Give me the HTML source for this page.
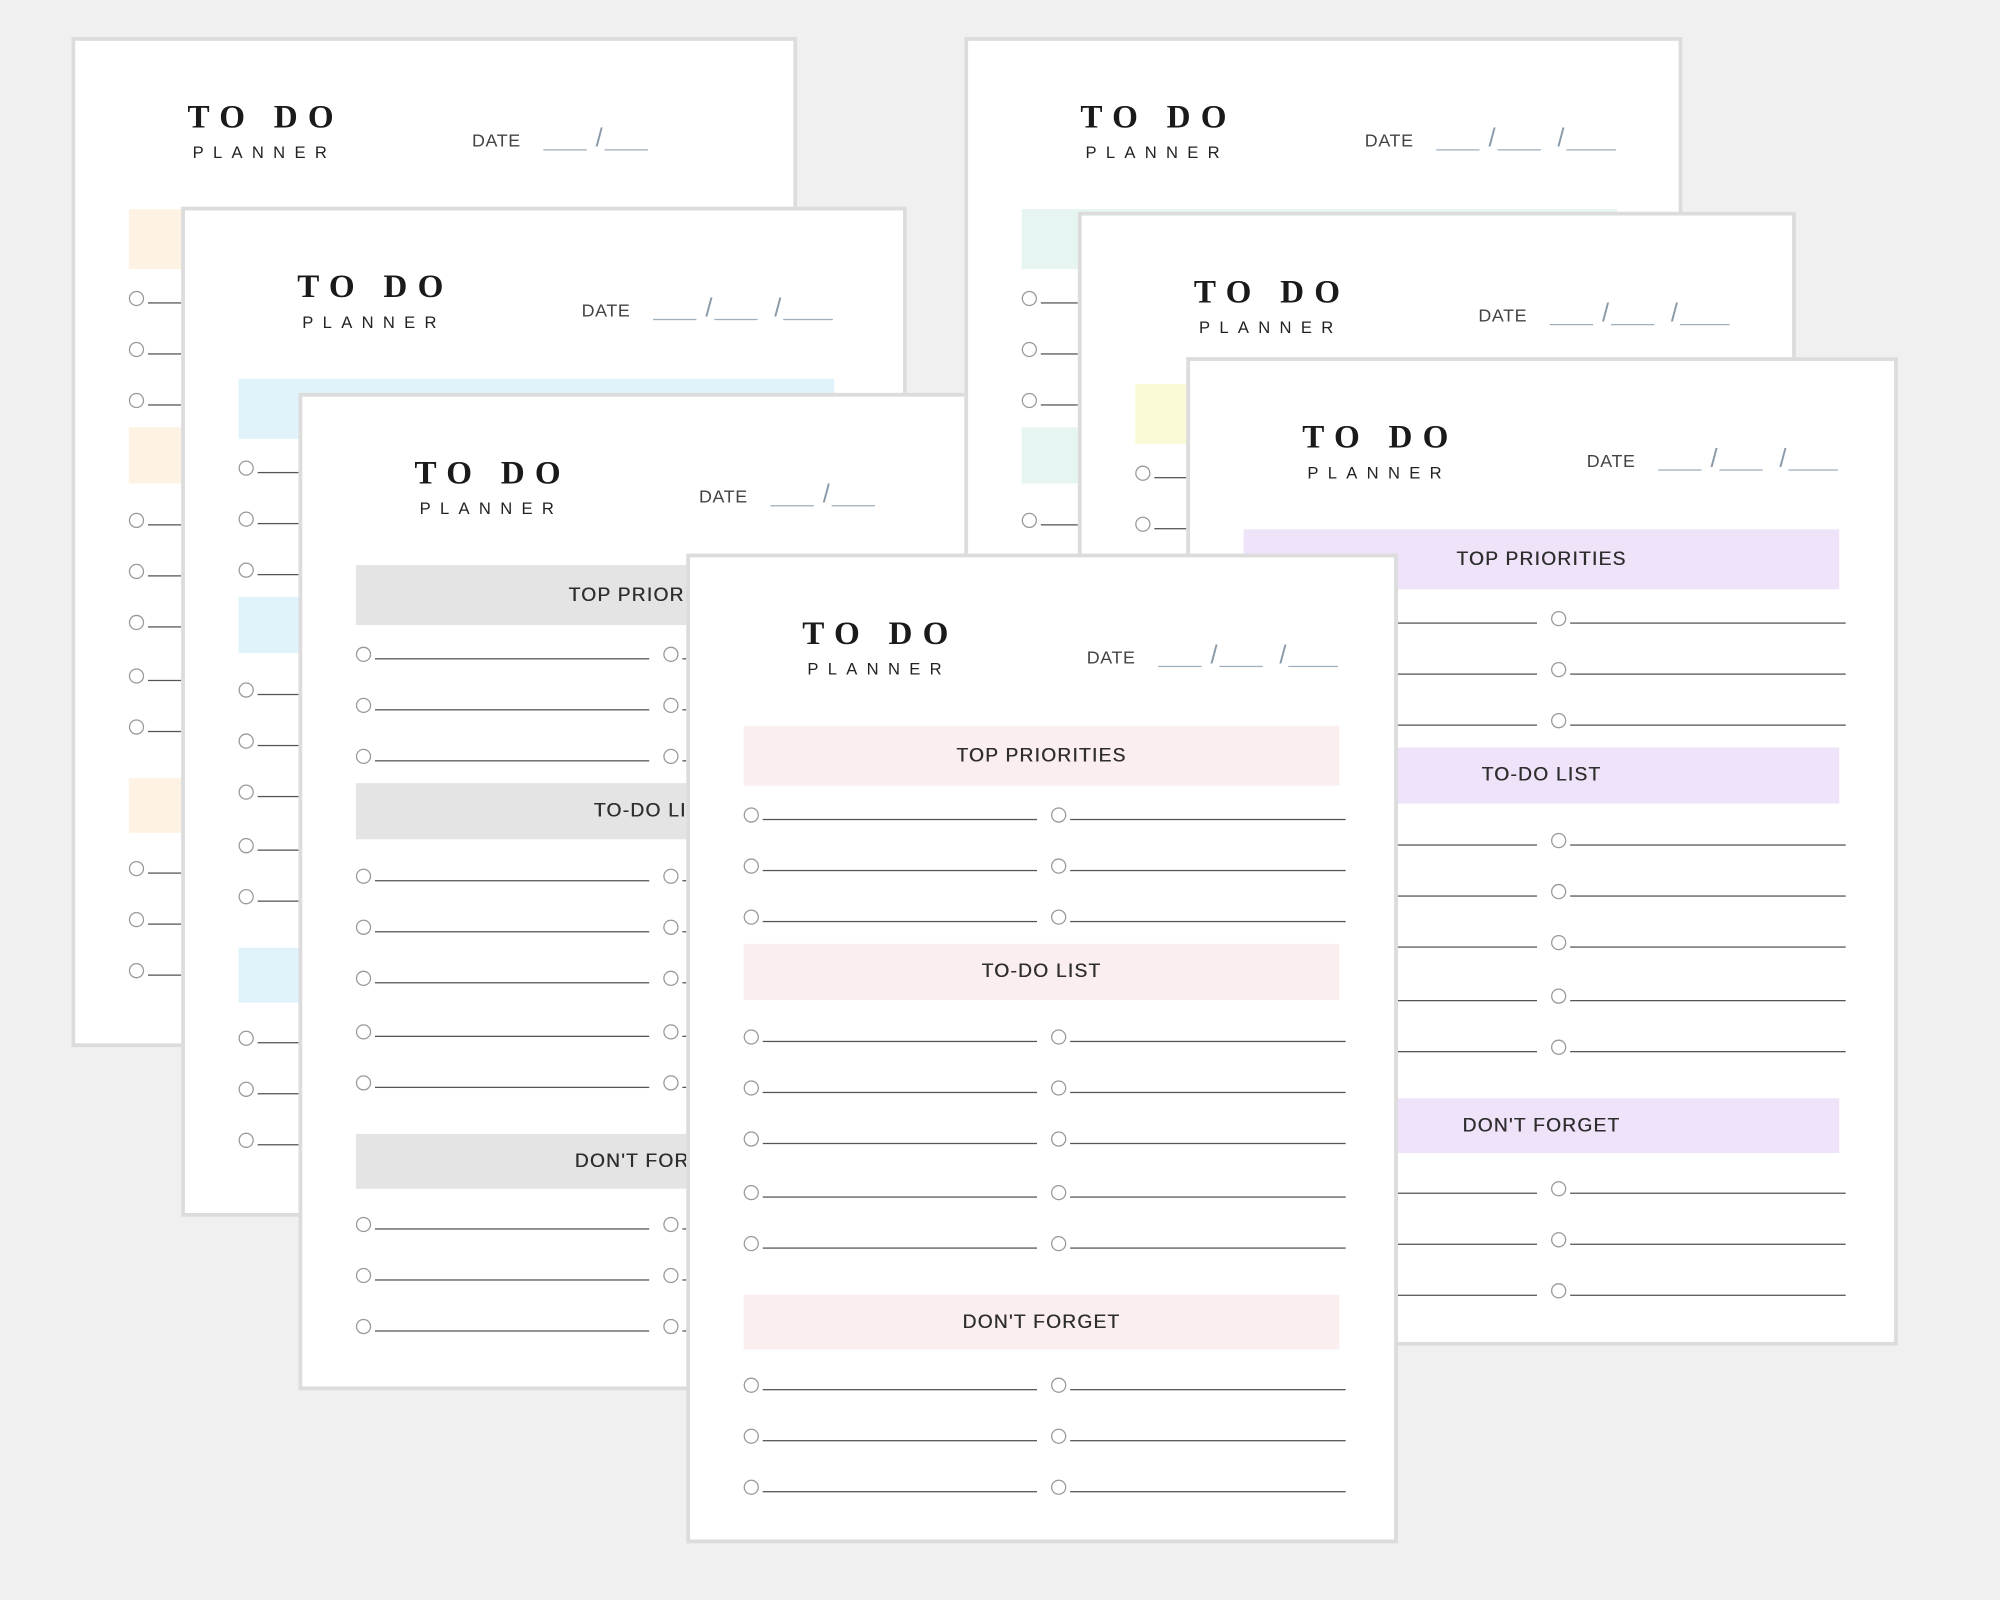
<!DOCTYPE html>
<html><head><meta charset="utf-8"><style>
html,body{margin:0;padding:0;background:#f0f0f0;}
#stage{position:relative;width:1568px;height:1254px;transform:scale(1.27551);transform-origin:0 0;overflow:hidden;background:#f0f0f0;}
.page{position:absolute;background:#fff;border:3px solid #dcdcdc;box-sizing:border-box;overflow:hidden;}
.title{position:absolute;font-family:"Liberation Serif",serif;font-weight:bold;font-size:26px;letter-spacing:8px;color:#1a1a1a;line-height:28px;white-space:nowrap;}
.sub{position:absolute;font-family:"Liberation Sans",sans-serif;font-size:13px;letter-spacing:7.3px;color:#222;line-height:14px;white-space:nowrap;}
.date{position:absolute;font-family:"Liberation Sans",sans-serif;font-size:14px;letter-spacing:0.5px;color:#444;line-height:16px;}
.dl{position:absolute;height:1px;background:#9fb0bf;}
.slash{position:absolute;font-family:"Liberation Sans",sans-serif;font-size:20px;color:#8a9aa8;line-height:20px;}
.band{position:absolute;font-family:"Liberation Sans",sans-serif;font-size:15px;letter-spacing:1px;color:#2e2e2e;text-align:center;text-shadow:0.3px 0 0 #2e2e2e;}
.circ{position:absolute;width:10px;height:10px;border:1px solid #999;border-radius:50%;}
.ln{position:absolute;height:1.3px;background:#555;}
</style></head><body>
<div id="stage"></div>
<script>
const pageNames = ['orange-planner','blue-planner','gray-planner','mint-planner','yellow-planner','purple-planner','pink-planner'];
const pageRects = [[56,29,569,792],[142,162,569,792],[234,308,569,782],[756,29,563,792],[845,166,563,792],[930,280,558,775],[538,434,558,776]];
const bandColors = [['#fdf2e3','#fdf2e3','#fdf2e3'],['#e0f3fa','#e0f3fa','#e0f3fa'],['#e4e4e4','#e4e4e4','#e4e4e4'],['#e6f5f1','#e6f5f1','#e6f5f1'],['#fbfad6','#e6f5f1','#e6f5f1'],['#efe3f9','#efe3f9','#efe3f9'],['#fbeeee','#fbeeee','#fbeeee']];
const dateSegs = [2,3,2,3,3,3,3];
const sectionTitles = ['TOP PRIORITIES','TO-DO LIST',"DON'T FORGET"];
const sectionTops = [132,303,578];
const sectionHeights = [47,44,43];
const sectionRows = [[202,242,282],[376,416,456,498,538],[649,689,729]];

const stage = document.getElementById('stage');
function mk(parent, cls, css, text){
  const d=document.createElement('div');
  d.className=cls;
  Object.assign(d.style,css);
  if(text!==undefined)d.textContent=text;
  parent.appendChild(d);
  return d;
}
pageRects.forEach((r,pi)=>{
  const pg=mk(stage,'page',{left:r[0]+'px',top:r[1]+'px',width:r[2]+'px',height:r[3]+'px'});
  
  
  const t=mk(pg,'title',{left:'88px',top:'46px'},'TO DO');
  
  
  const s=mk(pg,'sub',{left:'92px',top:'81px'},'PLANNER');
  
  
  const dt=mk(pg,'date',{left:'311px',top:'70px'},'DATE');
  
  
  const segX=[[367,401],[415,449],[469,508]];
  for(let k=0;k<dateSegs[pi];k++){
    const l=mk(pg,'dl',{left:segX[k][0]+'px',top:'85px',width:(segX[k][1]-segX[k][0])+'px'});
    
    
    if(k>0){
      const sl=mk(pg,'slash',{left:(segX[k][0]-7)+'px',top:'67px'},'/');
      
      
    }
  }
  sectionTitles.forEach((st,si)=>{
    const b=mk(pg,'band',{left:'42px',top:sectionTops[si]+'px',width:'467px',height:sectionHeights[si]+'px',lineHeight:sectionHeights[si]+'px',background:bandColors[pi][si]},st);
    
    
    sectionRows[si].forEach(y=>{
      [[42,57,272],[283,298,514]].forEach(c=>{
        const ci=mk(pg,'circ',{left:c[0]+'px',top:(y-6)+'px'});
        
        
        const ln=mk(pg,'ln',{left:c[1]+'px',top:(y+3)+'px',width:(c[2]-c[1])+'px'});
        
        
      });
    });
  });
});
</script>
</body></html>
